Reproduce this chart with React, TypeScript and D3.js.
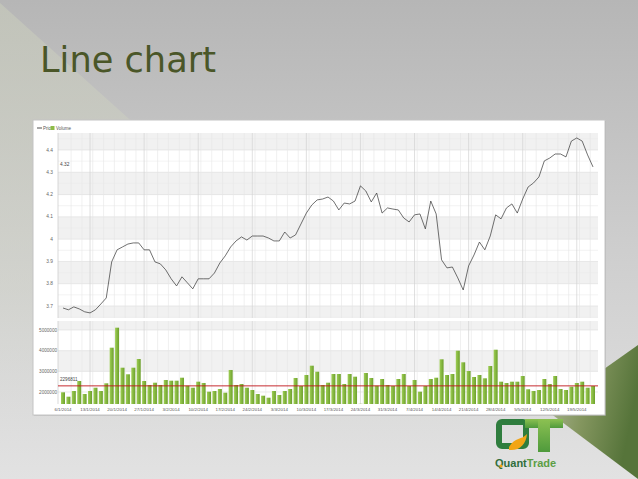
import React from 'react'
import * as d3 from 'd3'

const W = 638
const H = 479

// daily close
const price = [
  3.691, 3.683, 3.696, 3.687, 3.674, 3.669, 3.683, 3.709, 3.736, 3.898,
  3.952, 3.965, 3.978, 3.983, 3.983, 3.952, 3.952, 3.898, 3.889, 3.862,
  3.822, 3.790, 3.831, 3.804, 3.777, 3.822, 3.822, 3.822, 3.848, 3.893,
  3.925, 3.965, 3.992, 4.010, 3.996, 4.014, 4.014, 4.014, 4.005, 3.992,
  3.992, 4.032, 4.005, 4.019, 4.068, 4.117, 4.153, 4.176, 4.180, 4.189,
  4.171, 4.131, 4.162, 4.158, 4.171, 4.239, 4.216, 4.167, 4.207, 4.117,
  4.140, 4.135, 4.131, 4.095, 4.077, 4.109, 4.113, 4.046, 4.171, 4.113,
  3.907, 3.871, 3.875, 3.826, 3.772, 3.880, 3.929, 3.987, 3.952, 4.014,
  4.109, 4.091, 4.140, 4.158, 4.117, 4.180, 4.234, 4.252, 4.279, 4.351,
  4.364, 4.382, 4.382, 4.369, 4.440, 4.454, 4.440, 4.378, 4.324,
]

// daily volume
const volume = [
  1985000, 1773000, 2048000, 2532000, 1903000, 2048000, 2208000, 2048000, 2421000, 4144000,
  5112000, 3176000, 2857000, 3176000, 3597000, 2532000, 2339000, 2450000, 2339000, 2581000,
  2547000, 2547000, 2692000, 2305000, 2208000, 2499000, 2436000, 2015000, 2048000, 2145000,
  1966000, 3065000, 2339000, 2387000, 2208000, 2097000, 1903000, 1821000, 1724000, 2048000,
  1855000, 2048000, 2145000, 2678000, 2290000, 2823000, 3273000, 2982000, 2339000, 2450000,
  2871000, 2871000, 2387000, 2871000, 2741000, 1430000, 2920000, 2678000, 2305000, 2629000,
  2339000, 2290000, 2629000, 2871000, 2290000, 2581000, 2015000, 2290000, 2629000, 2692000,
  3583000, 2823000, 2871000, 3999000, 3437000, 3016000, 2726000, 2823000, 2663000, 3258000,
  4047000, 2499000, 2436000, 2499000, 2499000, 2774000, 2131000, 2048000, 2097000, 2629000,
  2387000, 2774000, 2145000, 2097000, 2257000, 2436000, 2499000, 2208000, 2290000,
]

const dateLabels = [
  '6/1/2014', '13/1/2014', '20/1/2014', '27/1/2014', '3/2/2014', '10/2/2014', '17/2/2014',
  '24/2/2014', '3/3/2014', '10/3/2014', '17/3/2014', '24/3/2014', '31/3/2014', '7/4/2014',
  '14/4/2014', '21/4/2014', '28/4/2014', '5/5/2014', '12/5/2014', '19/5/2014',
]

const priceTicks = [4.4, 4.3, 4.2, 4.1, 4.0, 3.9, 3.8, 3.7]
const priceBands = [[4.4, 4.5], [4.2, 4.3], [4.0, 4.1], [3.8, 3.9], [3.6, 3.7]]
const volumeTicks = [5000000, 4000000, 3000000, 2000000]
const volumeBands = [[5000000, 6000000], [3000000, 4000000]]
const avgVolume = 2296811
const lastPrice = 4.32

const PRICE = { left: 58, right: 598, top: 133, bottom: 318 }
const VOL = { top: 321, bottom: 404 }

export default function App() {
  const xScale = d3.scaleLinear().domain([0, price.length - 1]).range([63, 593])
  const yPrice = d3.scaleLinear().domain([3.7, 4.4]).range([306, 150])
  const yVol = d3.scaleLinear().domain([2000000, 5000000]).range([392, 330])

  const clampP = (y: number) => Math.max(PRICE.top, Math.min(PRICE.bottom, y))
  const clampV = (y: number) => Math.max(VOL.top, Math.min(VOL.bottom, y))

  const linePath = d3
    .line<number>()
    .x((d, i) => xScale(i))
    .y((d) => yPrice(d))(price)

  const minorX = d3.range(1, price.length, 2).map((i) => xScale(i) + 2.7)
  const majorX = d3.range(5, price.length, 10).map((i) => xScale(i))
  const halfTicks = d3.range(3.65, 4.5, 0.1).map((v) => yPrice(v)).filter((y) => y > PRICE.top && y < PRICE.bottom)

  const font = 'Liberation Sans, Arial, sans-serif'

  return (
    <div style={{ position: 'absolute', left: 0, top: 0 }}>
      <svg width={W} height={H} style={{ display: 'block' }}>
        <defs>
          <linearGradient id="bg" x1="0" y1="0" x2="0" y2="1">
            <stop offset="0" stopColor="#b6b6b6" />
            <stop offset="0.5" stopColor="#cdcdcd" />
            <stop offset="1" stopColor="#e2e2e2" />
          </linearGradient>
          <linearGradient id="side" x1="0" y1="0" x2="0" y2="1">
            <stop offset="0" stopColor="#c6c9bb" stopOpacity={0.7} />
            <stop offset="0.6" stopColor="#d2d4ca" stopOpacity={0.5} />
            <stop offset="1" stopColor="#e2e2e2" stopOpacity={0} />
          </linearGradient>
          <linearGradient id="tri" x1="0" y1="0" x2="1" y2="0.3">
            <stop offset="0" stopColor="#b3bb9e" />
            <stop offset="0.5" stopColor="#84965f" />
            <stop offset="1" stopColor="#56743a" />
          </linearGradient>
          <linearGradient id="bar" x1="0" y1="0" x2="1" y2="0">
            <stop offset="0" stopColor="#9fcf55" />
            <stop offset="1" stopColor="#6c9f2c" />
          </linearGradient>
          <linearGradient id="tee" x1="0" y1="0" x2="0" y2="1">
            <stop offset="0" stopColor="#8cc152" />
            <stop offset="1" stopColor="#4f9a3c" />
          </linearGradient>
        </defs>

        {/* slide background */}
        <rect x={0} y={0} width={W} height={H} fill="url(#bg)" />
        <polygon points="0,3 530,479 0,479" fill="url(#side)" />
        <polygon points="546,410 638,345 638,479" fill="url(#tri)" />

        <text x={40} y={72} fontFamily="DejaVu Sans, sans-serif" fontSize={36} fill="#4a5628" textLength={176} lengthAdjust="spacingAndGlyphs">
          Line chart
        </text>

        {/* chart box */}
        <rect x={34} y={121} width={572} height={295} fill="#9a9a9a" opacity={0.35} />
        <rect x={33} y={120} width={572} height={295} fill="#ffffff" stroke="#c4c4c4" strokeWidth={1} />

        {/* legend */}
        <line x1={37} x2={42} y1={128} y2={128} stroke="#222" strokeWidth={0.8} />
        <text x={43} y={129.5} fontSize={4.5} fontFamily={font} fill="#555">Price</text>
        <rect x={50.5} y={126} width={4} height={4} fill="#8dbb48" />
        <text x={56} y={129.5} fontSize={4.5} fontFamily={font} fill="#555">Volume</text>

        {/* price panel */}
        {priceBands.map(([a, b], i) => {
          const y1 = clampP(yPrice(b))
          const y2 = clampP(yPrice(a))
          return <rect key={i} x={PRICE.left} y={y1} width={PRICE.right - PRICE.left} height={y2 - y1} fill="#f1f1f1" />
        })}
        {halfTicks.map((y, i) => (
          <line key={i} x1={PRICE.left} x2={PRICE.right} y1={y} y2={y} stroke="#ebebeb" strokeWidth={0.6} />
        ))}
        {priceTicks.map((t) => (
          <line key={t} x1={PRICE.left} x2={PRICE.right} y1={yPrice(t)} y2={yPrice(t)} stroke="#dcdcdc" strokeWidth={0.6} />
        ))}
        {minorX.map((x, i) => (
          <line key={i} x1={x} x2={x} y1={PRICE.top} y2={PRICE.bottom} stroke="#e6e6e6" strokeWidth={0.6} />
        ))}
        {majorX.map((x, i) => (
          <line key={i} x1={x} x2={x} y1={PRICE.top} y2={PRICE.bottom} stroke="#d2d2d2" strokeWidth={0.7} />
        ))}
        <line x1={PRICE.left} x2={PRICE.left} y1={PRICE.top} y2={PRICE.bottom} stroke="#c8c8c8" strokeWidth={0.7} />
        {priceTicks.map((t) => (
          <text key={t} x={53} y={yPrice(t) + 1.6} textAnchor="end" fontSize={4.8} fontFamily={font} fill="#666">
            {t.toFixed(1).replace('.0', '')}
          </text>
        ))}
        <path d={linePath ?? ''} fill="none" stroke="#333" strokeWidth={0.7} />
        <text x={60} y={yPrice(lastPrice) - 1.5} fontSize={4.8} fontFamily={font} fill="#444">
          {lastPrice.toFixed(2)}
        </text>

        {/* volume panel */}
        {volumeBands.map(([a, b], i) => {
          const y1 = clampV(yVol(b))
          const y2 = clampV(yVol(a))
          return <rect key={i} x={PRICE.left} y={y1} width={PRICE.right - PRICE.left} height={y2 - y1} fill="#f1f1f1" />
        })}
        {volumeTicks.map((t) => (
          <line key={t} x1={PRICE.left} x2={PRICE.right} y1={yVol(t)} y2={yVol(t)} stroke="#dcdcdc" strokeWidth={0.6} />
        ))}
        {minorX.map((x, i) => (
          <line key={i} x1={x} x2={x} y1={VOL.top} y2={VOL.bottom} stroke="#e6e6e6" strokeWidth={0.6} />
        ))}
        {majorX.map((x, i) => (
          <line key={i} x1={x} x2={x} y1={VOL.top} y2={VOL.bottom} stroke="#d2d2d2" strokeWidth={0.7} />
        ))}
        <line x1={PRICE.left} x2={PRICE.left} y1={VOL.top} y2={VOL.bottom} stroke="#c8c8c8" strokeWidth={0.7} />
        {volumeTicks.map((t) => (
          <text key={t} x={57} y={yVol(t) + 1.6} textAnchor="end" fontSize={4.6} fontFamily={font} fill="#666">
            {t}
          </text>
        ))}
        {volume.map((v, i) => {
          const y = yVol(v)
          return <rect key={i} x={xScale(i) - 2} y={y} width={4} height={Math.max(0, VOL.bottom - y)} fill="url(#bar)" />
        })}
        <line x1={PRICE.left} x2={PRICE.right} y1={yVol(avgVolume)} y2={yVol(avgVolume)} stroke="#c0141a" strokeWidth={0.9} />
        <text x={60} y={yVol(avgVolume) - 5} fontSize={4.6} fontFamily={font} fill="#444">
          {avgVolume}
        </text>

        {/* date axis */}
        {dateLabels.map((d, k) => (
          <text key={d} x={xScale(k * 5)} y={411} textAnchor="middle" fontSize={4.4} fontFamily={font} fill="#555">
            {d}
          </text>
        ))}

        {/* logo */}
        <rect x={499} y={422} width={27} height={24} rx={3} fill="none" stroke="#2f7d3e" strokeWidth={6} />
        <path d="M509,447 C515,437 522,440 527,434 C526,444 520,451 509,450 Z" fill="#f2a516" />
        <rect x={525} y={419} width={38} height={9} fill="url(#tee)" />
        <rect x={538} y={419} width={12} height={33} fill="url(#tee)" />
        <text x={495} y={467} fontSize={11} fontWeight="bold" fontFamily="Liberation Sans, Arial, sans-serif">
          <tspan fill="#2f6e3c">Quant</tspan>
          <tspan fill="#5c9e45">Trade</tspan>
        </text>
        <circle cx={501} cy={466} r={1.6} fill="#f2a516" />
      </svg>
    </div>
  )
}
